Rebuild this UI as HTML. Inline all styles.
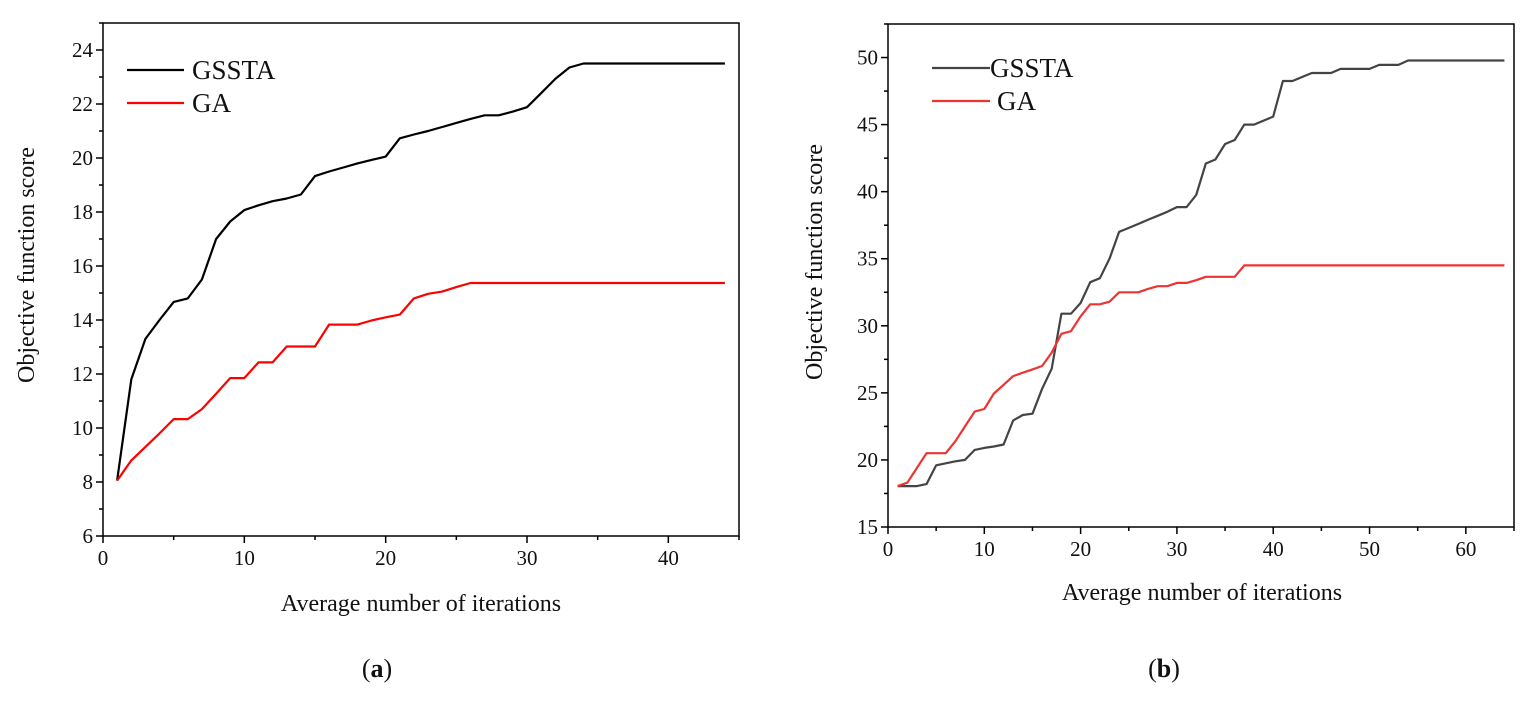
<!DOCTYPE html>
<html><head><meta charset="utf-8">
<style>
html,body{margin:0;padding:0;background:#fff;}
svg{display:block;font-family:"Liberation Serif",serif;}
</style></head>
<body>
<svg id="fig" width="1534" height="701" viewBox="0 0 1534 701"></svg>
<script>
// Chart (a) data
const iterA = [1,2,3,4,5,6,7,8,9,10,11,12,13,14,15,16,17,18,19,20,21,22,23,24,25,26,27,28,29,30,31,32,33,34,35,36,37,38,39,40,41,42,43,44];
const gsstaA = [8.05,11.8,13.3,14.0,14.67,14.8,15.5,17.0,17.65,18.07,18.25,18.4,18.5,18.65,19.33,19.5,19.65,19.8,19.93,20.05,20.73,20.87,21.0,21.15,21.3,21.45,21.58,21.58,21.72,21.88,22.4,22.93,23.35,23.5,23.5,23.5,23.5,23.5,23.5,23.5,23.5,23.5,23.5,23.5];
const gaA = [8.05,8.8,9.3,9.8,10.33,10.33,10.7,11.27,11.85,11.85,12.43,12.43,13.02,13.02,13.02,13.83,13.83,13.83,13.98,14.1,14.2,14.8,14.97,15.05,15.22,15.37,15.37,15.37,15.37,15.37,15.37,15.37,15.37,15.37,15.37,15.37,15.37,15.37,15.37,15.37,15.37,15.37,15.37,15.37];
const xTicksA = [0,10,20,30,40];
const yTicksA = [6,8,10,12,14,16,18,20,22,24];
// Chart (b) data
const iterB = [1,2,3,4,5,6,7,8,9,10,11,12,13,14,15,16,17,18,19,20,21,22,23,24,25,26,27,28,29,30,31,32,33,34,35,36,37,38,39,40,41,42,43,44,45,46,47,48,49,50,51,52,53,54,55,56,57,58,59,60,61,62,63,64];
const gsstaB = [18.05,18.05,18.05,18.2,19.6,19.75,19.9,20.0,20.75,20.9,21.0,21.15,22.95,23.35,23.45,25.3,26.8,30.9,30.9,31.7,33.25,33.55,35.0,37.0,37.3,37.6,37.9,38.2,38.5,38.85,38.85,39.75,42.1,42.4,43.55,43.85,45.0,45.0,45.3,45.6,48.25,48.25,48.55,48.85,48.85,48.85,49.15,49.15,49.15,49.15,49.45,49.45,49.45,49.78,49.78,49.78,49.78,49.78,49.78,49.78,49.78,49.78,49.78,49.78];
const gaB = [18.05,18.3,19.4,20.5,20.5,20.5,21.4,22.5,23.6,23.8,24.95,25.6,26.25,26.5,26.75,27.0,28.0,29.4,29.6,30.7,31.6,31.6,31.8,32.5,32.5,32.5,32.75,32.95,32.95,33.2,33.2,33.4,33.65,33.65,33.65,33.65,34.5,34.5,34.5,34.5,34.5,34.5,34.5,34.5,34.5,34.5,34.5,34.5,34.5,34.5,34.5,34.5,34.5,34.5,34.5,34.5,34.5,34.5,34.5,34.5,34.5,34.5,34.5,34.5];
const xTicksB = [0,10,20,30,40,50,60];
const yTicksB = [15,20,25,30,35,40,45,50];

const NS = "http://www.w3.org/2000/svg";
const svg = document.getElementById('fig');
function mk(tag, attrs, parent, txt){
  const e = document.createElementNS(NS, tag);
  for (const k in attrs) e.setAttribute(k, attrs[k]);
  if (txt !== undefined) e.textContent = txt;
  (parent||svg).appendChild(e);
  return e;
}

function chart(cfg){
  const g = mk('g', {});
  
  
  const X = v => cfg.L + (v - cfg.xmin) / (cfg.xmax - cfg.xmin) * (cfg.R - cfg.L);
  const Y = v => cfg.B - (v - cfg.ymin) / (cfg.ymax - cfg.ymin) * (cfg.B - cfg.T);
  const frame = mk('rect', {x:cfg.L, y:cfg.T, width:cfg.R-cfg.L, height:cfg.B-cfg.T, fill:'none', stroke:'#000', 'stroke-width':1.5}, g);
  
  
  for (let i = 0; i < cfg.xTicks.length; i++){
    const v = cfg.xTicks[i];
    mk('line', {x1:X(v), x2:X(v), y1:cfg.B, y2:cfg.B+7, stroke:'#000', 'stroke-width':1.5}, g);
    const minor = v + cfg.xStep/2;
    if (minor <= cfg.xmax) mk('line', {x1:X(minor), x2:X(minor), y1:cfg.B, y2:cfg.B+4, stroke:'#000', 'stroke-width':1.5}, g);
    const t = mk('text', {x:X(v), y:cfg.B+29, 'text-anchor':'middle', 'font-size':21, fill:'#111'}, g, String(v));
    
    
  }
  for (let i = 0; i < cfg.yTicks.length; i++){
    const v = cfg.yTicks[i];
    mk('line', {x1:cfg.L-7, x2:cfg.L, y1:Y(v), y2:Y(v), stroke:'#000', 'stroke-width':1.5}, g);
    const minor = v + cfg.yStep/2;
    if (minor <= cfg.ymax) mk('line', {x1:cfg.L-4, x2:cfg.L, y1:Y(minor), y2:Y(minor), stroke:'#000', 'stroke-width':1.5}, g);
    const t = mk('text', {x:cfg.L-10, y:Y(v)+7, 'text-anchor':'end', 'font-size':21, fill:'#111'}, g, String(v));
    
    
  }
  for (const s of cfg.series){
    const pts = cfg.xs.map((x,i) => X(x).toFixed(1) + ',' + Y(s.vals[i]).toFixed(1)).join(' ');
    const p = mk('polyline', {points:pts, fill:'none', stroke:s.color, 'stroke-width':2.2, 'stroke-linejoin':'round'}, g);
    
    
  }
  cfg.legend.forEach(l => {
    const lg = mk('g', {}, g);
    
    
    mk('line', {x1:l.x1, x2:l.x2, y1:l.y, y2:l.y, stroke:l.color, 'stroke-width':2.2}, lg);
    mk('text', {x:l.tx, y:l.y+9, 'font-size':27, fill:'#111'}, lg, l.label);
  });
  const xt = mk('text', {x:cfg.xtx, y:cfg.xty, 'text-anchor':'middle', 'font-size':24, fill:'#111'}, g, 'Average number of iterations');
  
  
  const yt = mk('text', {x:0, y:0, 'text-anchor':'middle', 'font-size':24, fill:'#111', transform:'translate('+cfg.ytx+','+cfg.yty+') rotate(-90)'}, g, 'Objective function score');
  
  
  const cap = mk('text', {x:cfg.capx, y:677, 'text-anchor':'middle', 'font-size':26, fill:'#111'}, g);
  
  
  mk('tspan', {}, cap, '(');
  mk('tspan', {'font-weight':'bold'}, cap, cfg.cap);
  mk('tspan', {}, cap, ')');
}

chart({id:'chart-a', L:103, R:739, T:23, B:536, xmin:0, xmax:45, ymin:6, ymax:25, xStep:10, yStep:2,
  xTicks:xTicksA, yTicks:yTicksA, xs:iterA,
  series:[{name:'gssta-line', vals:gsstaA, color:'#000'},{name:'ga-line', vals:gaA, color:'#f00'}],
  legend:[{x1:127,x2:184,y:70,tx:192,label:'GSSTA',color:'#000'},{x1:127,x2:184,y:103,tx:192,label:'GA',color:'#f00'}],
  xtx:421, xty:611, ytx:34, yty:265, capx:377, cap:'a'});

chart({id:'chart-b', L:888, R:1514, T:24, B:527, xmin:0, xmax:65, ymin:15, ymax:52.5, xStep:10, yStep:5,
  xTicks:xTicksB, yTicks:yTicksB, xs:iterB,
  series:[{name:'gssta-line', vals:gsstaB, color:'#444'},{name:'ga-line', vals:gaB, color:'#ee3333'}],
  legend:[{x1:932,x2:990,y:68,tx:990,label:'GSSTA',color:'#444'},{x1:932,x2:990,y:101,tx:997,label:'GA',color:'#ee3333'}],
  xtx:1202, xty:600, ytx:822, yty:262, capx:1164, cap:'b'});
</script>
</body></html>
